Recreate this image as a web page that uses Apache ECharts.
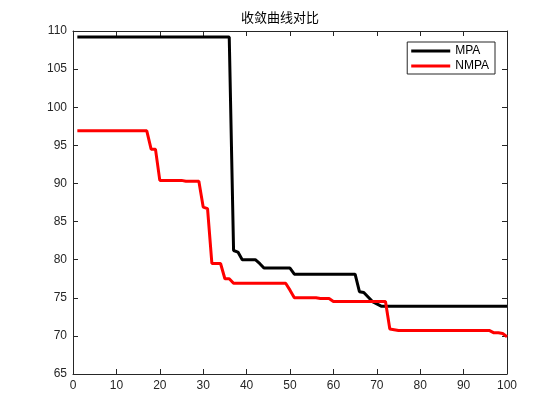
<!DOCTYPE html>
<html>
<head>
<meta charset="utf-8">
<script src="https://cdn.jsdelivr.net/npm/echarts@6/dist/echarts.min.js"></script>
<style>
  html, body { margin: 0; padding: 0; background: #fff; }
  #chart { width: 560px; height: 420px; }
</style>
</head>
<body>
<div id="chart"></div>
<script>
// 迭代次数 1..100
var iterCount = 100;

// MPA 收敛曲线
var mpaValues = [
  109.2, 109.2, 109.2, 109.2, 109.2, 109.2, 109.2, 109.2, 109.2, 109.2,
  109.2, 109.2, 109.2, 109.2, 109.2, 109.2, 109.2, 109.2, 109.2, 109.2,
  109.2, 109.2, 109.2, 109.2, 109.2, 109.2, 109.2, 109.2, 109.2, 109.2,
  109.2, 109.2, 109.2, 109.2, 109.2, 109.2, 81.2, 81.0, 80.0, 80.0,
  80.0, 80.0, 79.5, 78.9, 78.9, 78.9, 78.9, 78.9, 78.9, 78.9,
  78.1, 78.1, 78.1, 78.1, 78.1, 78.1, 78.1, 78.1, 78.1, 78.1,
  78.1, 78.1, 78.1, 78.1, 78.1, 75.8, 75.7, 75.1, 74.5, 74.2,
  73.9, 73.9, 73.9, 73.9, 73.9, 73.9, 73.9, 73.9, 73.9, 73.9,
  73.9, 73.9, 73.9, 73.9, 73.9, 73.9, 73.9, 73.9, 73.9, 73.9,
  73.9, 73.9, 73.9, 73.9, 73.9, 73.9, 73.9, 73.9, 73.9, 73.9
];

// NMPA 收敛曲线
var nmpaValues = [
  96.9, 96.9, 96.9, 96.9, 96.9, 96.9, 96.9, 96.9, 96.9, 96.9,
  96.9, 96.9, 96.9, 96.9, 96.9, 96.9, 96.9, 94.5, 94.5, 90.4,
  90.4, 90.4, 90.4, 90.4, 90.4, 90.3, 90.3, 90.3, 90.3, 86.9,
  86.7, 79.5, 79.5, 79.5, 77.5, 77.5, 76.9, 76.9, 76.9, 76.9,
  76.9, 76.9, 76.9, 76.9, 76.9, 76.9, 76.9, 76.9, 76.9, 76.0,
  75.0, 75.0, 75.0, 75.0, 75.0, 75.0, 74.9, 74.9, 74.9, 74.5,
  74.5, 74.5, 74.5, 74.5, 74.5, 74.5, 74.5, 74.5, 74.5, 74.5,
  74.5, 74.5, 70.9, 70.8, 70.7, 70.7, 70.7, 70.7, 70.7, 70.7,
  70.7, 70.7, 70.7, 70.7, 70.7, 70.7, 70.7, 70.7, 70.7, 70.7,
  70.7, 70.7, 70.7, 70.7, 70.7, 70.7, 70.4, 70.4, 70.3, 69.9
];

var seriesNames = ['MPA', 'NMPA'];
var seriesColors = ['#000000', '#ff0000'];

function toPairs(values) {
  var out = [];
  for (var i = 0; i < iterCount; i++) {
    out.push([i + 1, values[i]]);
  }
  return out;
}

var axisColor = '#262626';
var fontFam = 'Liberation Sans, Arial, sans-serif';

function makeX(pos, showLabel) {
  return {
    type: 'value', position: pos, min: 0, max: 100, interval: 10,
    axisLine: { show: true, onZero: false, lineStyle: { color: axisColor, width: 1 } },
    axisTick: { show: true, inside: true, length: 5, lineStyle: { color: axisColor } },
    axisLabel: { show: showLabel, color: axisColor, fontSize: 12, fontFamily: fontFam, margin: 6 },
    splitLine: { show: false }
  };
}

function makeY(pos, showLabel) {
  return {
    type: 'value', position: pos, min: 65, max: 110, interval: 5,
    axisLine: { show: true, onZero: false, lineStyle: { color: axisColor, width: 1 } },
    axisTick: { show: true, inside: true, length: 5, lineStyle: { color: axisColor } },
    axisLabel: { show: showLabel, color: axisColor, fontSize: 12, fontFamily: fontFam, margin: 6 },
    splitLine: { show: false }
  };
}

var chart = echarts.init(document.getElementById('chart'));
var option = {
  backgroundColor: '#ffffff',
  animation: false,
  title: {
    text: '收敛曲线对比',
    left: 'center',
    top: 6,
    textStyle: { fontFamily: 'Noto Sans CJK SC', fontSize: 13, fontWeight: 'normal', color: '#000' }
  },
  grid: { left: 73, right: 53, top: 31, bottom: 46 },
  legend: {
    orient: 'vertical',
    right: 65,
    top: 42,
    padding: [2, 6, 1, 4],
    icon: 'rect',
    itemWidth: 39,
    itemHeight: 3,
    itemGap: 1,
    borderColor: axisColor,
    borderWidth: 1,
    borderRadius: 0,
    backgroundColor: '#fff',
    textStyle: { fontSize: 12, fontFamily: fontFam, color: '#000', lineHeight: 14 },
    data: seriesNames
  },
  xAxis: [makeX('bottom', true), makeX('top', false)],
  yAxis: [makeY('left', true), makeY('right', false)],
  series: [
    {
      name: seriesNames[0], type: 'line', xAxisIndex: 0, yAxisIndex: 0,
      symbol: 'none', data: toPairs(mpaValues),
      lineStyle: { color: seriesColors[0], width: 3 },
      itemStyle: { color: seriesColors[0] }
    },
    {
      name: seriesNames[1], type: 'line', xAxisIndex: 0, yAxisIndex: 0,
      symbol: 'none', data: toPairs(nmpaValues),
      lineStyle: { color: seriesColors[1], width: 3 },
      itemStyle: { color: seriesColors[1] }
    }
  ]
};
chart.setOption(option);
</script>
</body>
</html>
